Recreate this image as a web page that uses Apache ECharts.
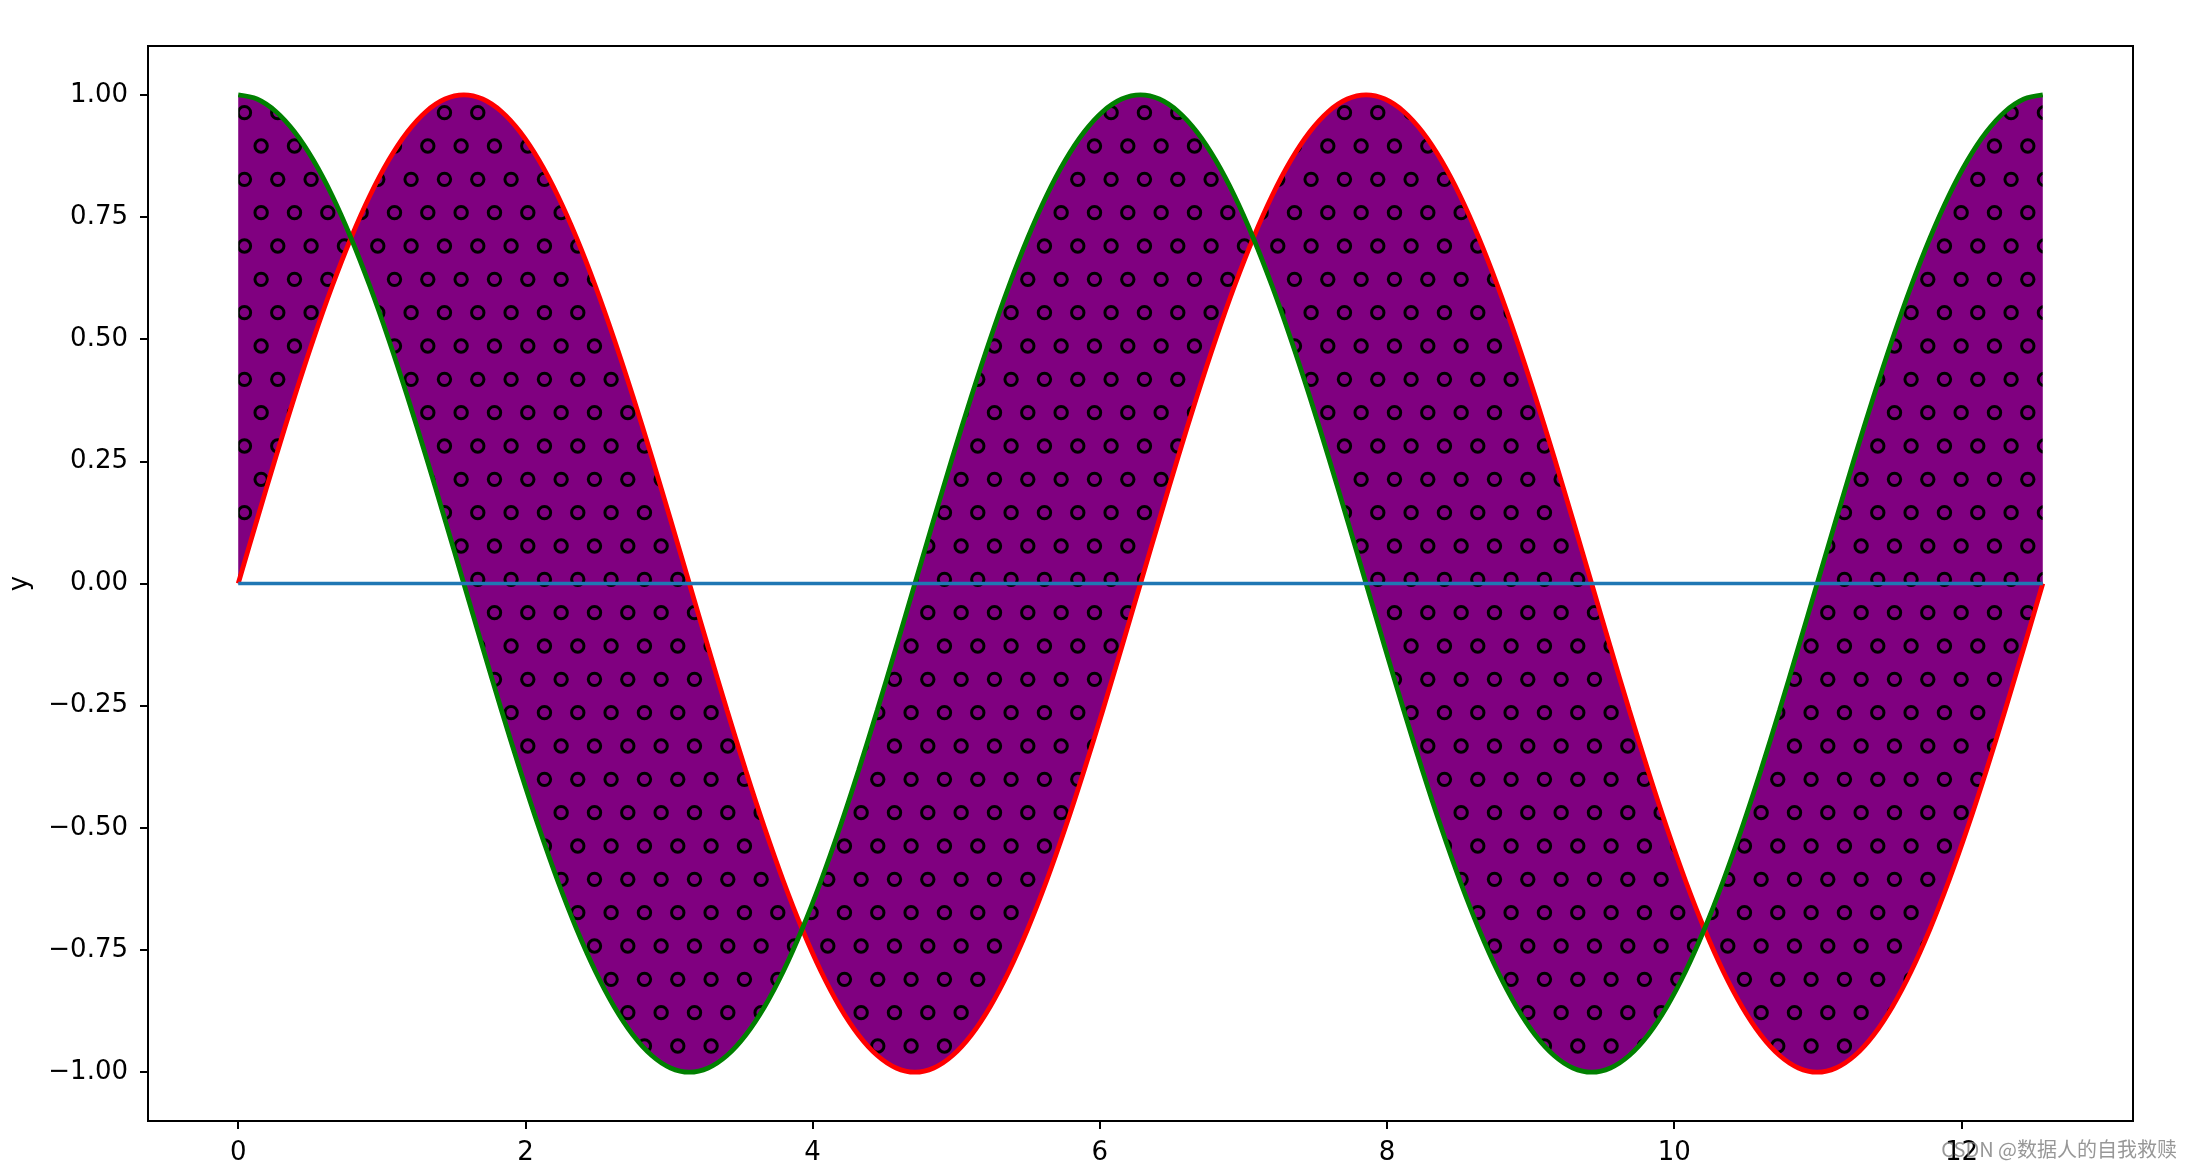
<!DOCTYPE html>
<html>
<head>
<meta charset="utf-8">
<script src="https://cdn.jsdelivr.net/npm/echarts@6/dist/echarts.min.js"></script>
<style>
html,body{margin:0;padding:0;background:#fff;}
#chart{position:absolute;left:0;top:0;width:2194px;height:1170px;}
</style>
</head>
<body>
<div id="chart"></div>
<script>
// ---- data ----
const xs = [0, 0.1309, 0.2618, 0.3927, 0.5236, 0.6545, 0.7854, 0.9163, 1.0472, 1.1781, 1.3090, 1.4399, 1.5708, 1.7017, 1.8326, 1.9635, 2.0944, 2.2253, 2.3562, 2.4871, 2.6180, 2.7489, 2.8798, 3.0107, 3.1416, 3.2725, 3.4034, 3.5343, 3.6652, 3.7961, 3.9270, 4.0579, 4.1888, 4.3197, 4.4506, 4.5815, 4.7124, 4.8433, 4.9742, 5.1051, 5.2360, 5.3669, 5.4978, 5.6287, 5.7596, 5.8905, 6.0214, 6.1523, 6.2832, 6.4141, 6.5450, 6.6759, 6.8068, 6.9377, 7.0686, 7.1995, 7.3304, 7.4613, 7.5922, 7.7231, 7.8540, 7.9849, 8.1158, 8.2467, 8.3776, 8.5085, 8.6394, 8.7703, 8.9012, 9.0321, 9.1630, 9.2939, 9.4248, 9.5557, 9.6866, 9.8175, 9.9484, 10.0793, 10.2102, 10.3411, 10.4720, 10.6029, 10.7338, 10.8647, 10.9956, 11.1265, 11.2574, 11.3883, 11.5192, 11.6501, 11.7810, 11.9119, 12.0428, 12.1737, 12.3046, 12.4355, 12.5664];
const sinY = [0, 0.1305, 0.2588, 0.3827, 0.5, 0.6088, 0.7071, 0.7934, 0.866, 0.9239, 0.9659, 0.9914, 1, 0.9914, 0.9659, 0.9239, 0.866, 0.7934, 0.7071, 0.6088, 0.5, 0.3827, 0.2588, 0.1305, 0,
  -0.1305, -0.2588, -0.3827, -0.5, -0.6088, -0.7071, -0.7934, -0.866, -0.9239, -0.9659, -0.9914, -1, -0.9914, -0.9659, -0.9239, -0.866, -0.7934, -0.7071, -0.6088, -0.5, -0.3827, -0.2588, -0.1305, 0,
  0.1305, 0.2588, 0.3827, 0.5, 0.6088, 0.7071, 0.7934, 0.866, 0.9239, 0.9659, 0.9914, 1, 0.9914, 0.9659, 0.9239, 0.866, 0.7934, 0.7071, 0.6088, 0.5, 0.3827, 0.2588, 0.1305, 0,
  -0.1305, -0.2588, -0.3827, -0.5, -0.6088, -0.7071, -0.7934, -0.866, -0.9239, -0.9659, -0.9914, -1, -0.9914, -0.9659, -0.9239, -0.866, -0.7934, -0.7071, -0.6088, -0.5, -0.3827, -0.2588, -0.1305, 0];
const cosY = [1, 0.9914, 0.9659, 0.9239, 0.866, 0.7934, 0.7071, 0.6088, 0.5, 0.3827, 0.2588, 0.1305, 0,
  -0.1305, -0.2588, -0.3827, -0.5, -0.6088, -0.7071, -0.7934, -0.866, -0.9239, -0.9659, -0.9914, -1, -0.9914, -0.9659, -0.9239, -0.866, -0.7934, -0.7071, -0.6088, -0.5, -0.3827, -0.2588, -0.1305, 0,
  0.1305, 0.2588, 0.3827, 0.5, 0.6088, 0.7071, 0.7934, 0.866, 0.9239, 0.9659, 0.9914, 1, 0.9914, 0.9659, 0.9239, 0.866, 0.7934, 0.7071, 0.6088, 0.5, 0.3827, 0.2588, 0.1305, 0,
  -0.1305, -0.2588, -0.3827, -0.5, -0.6088, -0.7071, -0.7934, -0.866, -0.9239, -0.9659, -0.9914, -1, -0.9914, -0.9659, -0.9239, -0.866, -0.7934, -0.7071, -0.6088, -0.5, -0.3827, -0.2588, -0.1305, 0,
  0.1305, 0.2588, 0.3827, 0.5, 0.6088, 0.7071, 0.7934, 0.866, 0.9239, 0.9659, 0.9914, 1];
const zeroX = [0, 12.5664];
const zeroY = [0, 0];
const xTicks = [0, 2, 4, 6, 8, 10, 12];
const yTicks = [-1, -0.75, -0.5, -0.25, 0, 0.25, 0.5, 0.75, 1];
const yTickLabels = ['\u22121.00', '\u22120.75', '\u22120.50', '\u22120.25', '0.00', '0.25', '0.50', '0.75', '1.00'];
const yName = 'y';
const watermark = 'CSDN @数据人的自我救赎';

// ---- hatch pattern (purple with 'o' circles) ----
function makeHatch() {
  const c = document.createElement('canvas');
  c.width = 100; c.height = 200;
  const g = c.getContext('2d');
  g.fillStyle = '#800080';
  g.fillRect(0, 0, 100, 200);
  g.strokeStyle = '#000';
  g.lineWidth = 3.0;
  const step = 100 / 3;
  for (let j = -1; j <= 6; j++) {
    const y = 12.67 + j * step;
    const off = (j % 2 === 0) ? 27.8 : 11.1;
    for (let k = -1; k <= 3; k++) {
      const x = off + k * step;
      g.beginPath();
      g.arc(x, y, 6.2, 0, Math.PI * 2);
      g.stroke();
    }
  }
  return c;
}
const hatch = makeHatch();

const chart = echarts.init(document.getElementById('chart'), null, {renderer: 'canvas'});
const font = 'DejaVu Sans';

chart.setOption({
  animation: false,
  backgroundColor: '#fff',
  grid: {left: 148, right: 61, top: 46, bottom: 49, containLabel: false, outerBoundsMode: 'none',
    show: true, borderColor: '#000', borderWidth: 2, backgroundColor: 'transparent'},
  xAxis: {
    type: 'value', min: -0.6283, max: 13.1947,
    axisLine: {show: false, onZero: false},
    splitLine: {show: false},
    axisTick: {show: true, length: 8, lineStyle: {color: '#000', width: 2}, customValues: xTicks},
    axisLabel: {color: '#000', fontSize: 26, fontFamily: font, margin: 19, customValues: xTicks,
      formatter: v => String(v)}
  },
  yAxis: {
    type: 'value', min: -1.1, max: 1.1,
    name: yName, nameLocation: 'middle', nameRotate: 90, nameGap: 115,
    nameTextStyle: {color: '#000', fontSize: 26, fontFamily: font},
    axisLine: {show: false, onZero: false},
    splitLine: {show: false},
    axisTick: {show: true, length: 8, lineStyle: {color: '#000', width: 2}, customValues: yTicks},
    axisLabel: {color: '#000', fontSize: 26, fontFamily: font, margin: 20, customValues: yTicks,
      formatter: v => { const i = yTicks.findIndex(t => Math.abs(t - v) < 1e-6); return i >= 0 ? yTickLabels[i] : ''; }}
  },
  graphic: [{
    type: 'text', right: 17, top: 1139, z: 100,
    style: {text: watermark, fontSize: 20, fontFamily: 'Noto Sans CJK SC', fill: 'rgba(125,125,125,0.8)'}
  }],
  series: [
    {
      type: 'custom', z: 1, silent: true,
      data: [[0, 0]],
      renderItem: function (params, api) {
        const pts = [];
        for (let i = 0; i < xs.length; i++) pts.push(api.coord([xs[i], sinY[i]]));
        for (let i = xs.length - 1; i >= 0; i--) pts.push(api.coord([xs[i], cosY[i]]));
        return {type: 'polygon', shape: {points: pts}, style: {fill: {image: hatch, repeat: 'repeat'}, stroke: null}};
      }
    },
    {
      type: 'line', z: 3, symbol: 'none', smooth: 0.33, data: xs.map((x, i) => [x, sinY[i]]),
      lineStyle: {color: '#ff0000', width: 4.8}
    },
    {
      type: 'line', z: 4, symbol: 'none', smooth: 0.33, data: xs.map((x, i) => [x, cosY[i]]),
      lineStyle: {color: '#008000', width: 4.8}
    },
    {
      type: 'line', z: 5, symbol: 'none', data: zeroX.map((x, i) => [x, zeroY[i]]),
      lineStyle: {color: '#1f77b4', width: 3.6}
    }
  ]
});
</script>
</body>
</html>
